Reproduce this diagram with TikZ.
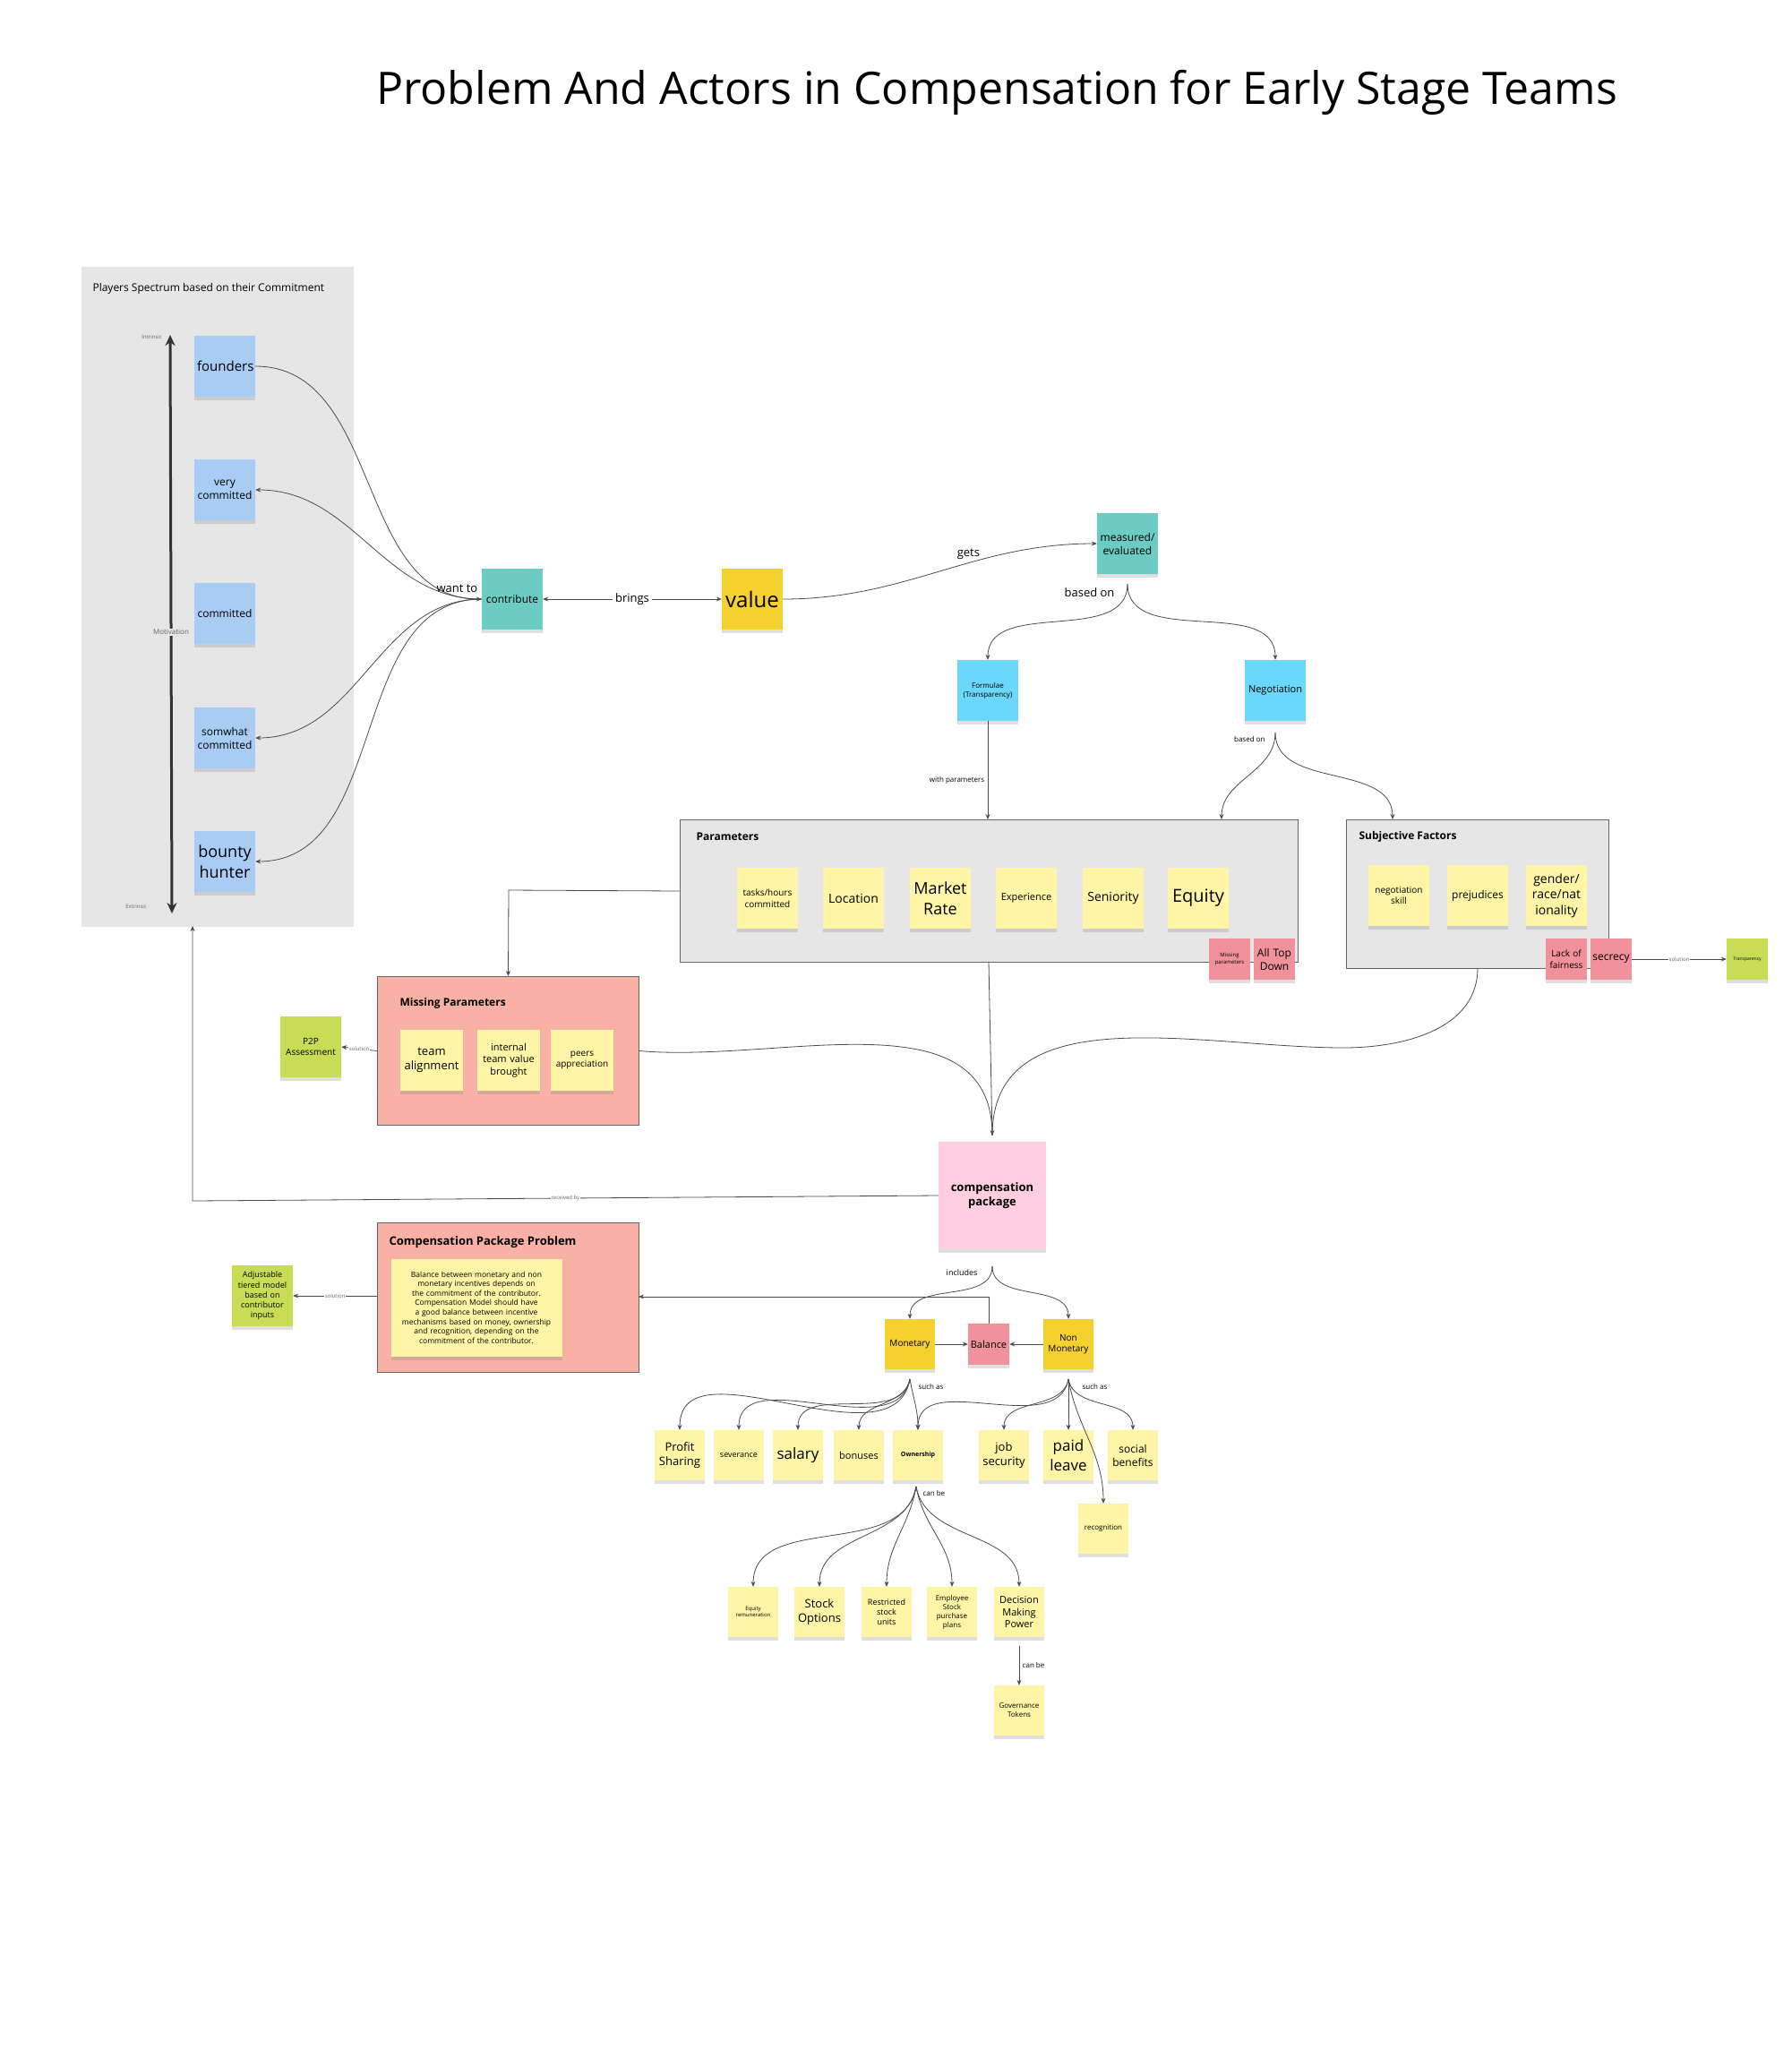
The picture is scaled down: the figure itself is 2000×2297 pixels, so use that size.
\documentclass[tikz,border=0pt]{standalone}
\usepackage{fontspec}
\setmainfont{Open Sans}
\usetikzlibrary{shadows,arrows.meta}
\definecolor{cblue}{HTML}{A9CCF5}
\definecolor{cteal}{HTML}{6CCBC2}
\definecolor{cgold}{HTML}{F4D12C}
\definecolor{cyel}{HTML}{FFF5A6}
\definecolor{ccyan}{HTML}{6BD7FA}
\definecolor{cpink}{HTML}{F0919B}
\definecolor{cpinkl}{HTML}{FFCEE0}
\definecolor{csalm}{HTML}{F8B1A4}
\definecolor{cgray}{HTML}{E6E6E6}
\definecolor{cgreen}{HTML}{C8DD55}
\newcommand\fsz[1]{\fontsize{#1}{\fpeval{#1*1.25}}\selectfont\hyphenpenalty=10000 }
\tikzset{
  st/.style={fill=#1, inner sep=2pt, align=center, minimum width=68pt, minimum height=68pt, text width=62pt,
    drop shadow={shadow xshift=0pt, shadow yshift=-4pt, opacity=0.25}},
  sm/.style={st=#1, minimum width=45pt, minimum height=46pt, text width=42pt},
  box/.style={draw=black!60, line width=1pt, fill=#1},
  ln/.style={draw=black!70, line width=0.8pt},
  ar/.style={ln, -{Stealth[length=6pt,width=5pt]}},
  tl/.style={font=\fsz{6}, text=black!60, fill=white, inner sep=1pt},
  f/.style={font=\fsz{#1}},
  fb/.style={font=\fsz{#1}\bfseries},
}
\begin{document}
\begin{tikzpicture}[x=1pt,y=-1pt]
\useasboundingbox[fill=white] (0,0) rectangle (2000,2297);
\node[f=50] (title) at (1113,103) {Problem And Actors in Compensation for Early Stage Teams};

% left panel
\node[box=cgray, draw=none, minimum width=304pt, minimum height=737pt, anchor=north west] (panel) at (90,297) {};
\node[f=12, anchor=west] (ptitle) at (100,322) {Players Spectrum based on their Commitment};
\coordinate (mtop) at (190,374);
\coordinate (mbot) at (192,1020);
\draw[line width=3pt, black!80, {Stealth[length=12pt,width=11pt]}-{Stealth[length=12pt,width=11pt]}] (mtop) -- (mbot);
\node[tl, fill=none, anchor=east] (intr) at (182,376) {Intrinsic};
\node[tl, fill=cgray, font=\fsz{8}] (motiv) at (191,706) {Motivation};
\node[tl, fill=none, anchor=east] (extr) at (165,1012) {Extrinsic};
\node[st=cblue, f=15] (founders) at (251,409) {founders};
\node[st=cblue, f=12] (very) at (251,547) {very\\committed};
\node[st=cblue, f=12] (committed) at (251,685) {committed};
\node[st=cblue, f=12] (somewhat) at (251,824) {somwhat\\committed};
\node[st=cblue, f=18] (bounty) at (251,962) {bounty\\hunter};

\node[st=cteal, f=12] (contribute) at (572,669) {contribute};
\node[st=cgold, f=24] (value) at (840,669) {value};
\node[st=cteal, f=12] (measured) at (1259,607) {measured/\\evaluated};
\node[st=ccyan, f=8] (formulae) at (1103,771) {Formulae\\(Transparency)};
\node[st=ccyan, f=11] (negotiation) at (1424,771) {Negotiation};

\draw[ar] (founders.east) to[out=0,in=180] node[pos=0.93, above, f=13] {want to} (contribute.west);
\draw[ar] (contribute.west) to[out=180,in=0] (very.east);
\draw[ar] (contribute.west) to[out=180,in=0] (somewhat.east);
\draw[ar] (contribute.west) to[out=180,in=0] (bounty.east);
\draw[ln, {Stealth[length=6pt,width=5pt]}-{Stealth[length=6pt,width=5pt]}] (contribute.east) -- node[fill=white, f=13] {brings} (value.west);
\draw[ar] (value.east) to[out=0,in=180] node[pos=0.6, above, f=13] {gets} (measured.west);
\coordinate (mb) at (1259,652);
\node[f=13, anchor=east] (basedon1) at (1248,662) {based on};
\draw[ar] (mb) to[out=-90,in=90] (formulae.north);
\draw[ar] (mb) to[out=-90,in=90] (negotiation.north);

% parameters
\node[box=cgray, minimum width=690pt, minimum height=159pt, anchor=north west] (params) at (759,915) {};
\node[fb=12, anchor=west] (ptl) at (774,934) {Parameters};
\node[st=cyel, f=10] (tasks) at (857,1003) {tasks/hours\\committed};
\node[st=cyel, f=14] (location) at (953,1003) {Location};
\node[st=cyel, f=18] (market) at (1050,1003) {Market\\Rate};
\node[st=cyel, f=11] (experience) at (1146,1003) {Experience};
\node[st=cyel, f=14] (seniority) at (1243,1003) {Seniority};
\node[st=cyel, f=20] (equity) at (1338,1003) {Equity};
\node[sm=cpink, f=6] (missp) at (1373,1071) {Missing\\parameters};
\node[sm=cpink, f=12] (topdown) at (1423,1071) {All Top\\Down};

\node[box=cgray, minimum width=293pt, minimum height=166pt, anchor=north west] (subj) at (1503,915) {};
\node[fb=12, anchor=west] (stl) at (1514,934) {Subjective Factors};
\node[st=cyel, f=10] (negskill) at (1562,1000) {negotiation\\skill};
\node[st=cyel, f=12] (prej) at (1650,1000) {prejudices};
\node[st=cyel, f=14] (gender) at (1738,1000) {gender/\\race/nat\\ionality};
\node[sm=cpink, f=10] (fair) at (1749,1071) {Lack of\\fairness};
\node[sm=cpink, f=12] (secrecy) at (1799,1071) {secrecy};
\node[sm=cgreen, f=5] (transp) at (1951,1071) {Transparency};
\draw[ar] (secrecy.east) -- node[tl] {solution} (transp.west);

\draw[ar] (formulae.south) -- node[pos=0.6, left, f=8] {with parameters} (formulae.south |- params.north);
\coordinate (nb) at (1424,818);
\node[f=8, anchor=east] (basedon2) at (1416,825) {based on};
\draw[ar] (nb) to[out=-90,in=90] (1364,915);
\draw[ar] (nb) to[out=-90,in=90] (1555,915);

% missing parameters
\node[box=csalm, minimum width=292pt, minimum height=166pt, anchor=north west] (missbox) at (421,1090) {};
\node[fb=12, anchor=west] (mtl) at (443,1120) {Missing Parameters};
\node[st=cyel, f=13, text width=66pt] (teamal) at (482,1184) {team\\alignment};
\node[st=cyel, f=11, text width=66pt] (internal) at (568,1184) {internal\\team value\\brought};
\node[st=cyel, f=10, text width=66pt] (peers) at (650,1184) {peers\\appreciation};
\node[st=cgreen, f=10] (p2p) at (347,1169) {P2P\\Assessment};
\draw[ar] (missbox.west) -- node[tl] {solution} (p2p.east);
\draw[ar] (params.west) -- (568,994) -- (missbox.north);

% compensation package
\node[st=cpinkl, minimum width=120pt, minimum height=120pt, text width=110pt, fb=13] (comp) at (1108,1335) {compensation\\package};
\coordinate (ct) at (1108,1268);
\draw[ar] (1104,1074) -- (ct);
\draw[ln] (missbox.east) to[out=-5,in=90] (ct);
\draw[ln] (1650,1081) to[out=-90,in=0] (1500,1170) to[out=180,in=90] (ct);
\draw[ar] (comp.west) -- node[tl, pos=0.5] {received by} (215,1341) -- (215,1034);

% compensation package problem
\node[box=csalm, minimum width=292pt, minimum height=167pt, anchor=north west] (cpp) at (421,1365) {};
\node[fb=13, anchor=west] (cptl) at (431,1387) {Compensation Package Problem};
\node[st=cyel, minimum width=191pt, minimum height=109pt, text width=182pt, f=8.5] (cpptext) at (532,1460) {Balance between monetary and non monetary incentives depends on the commitment of the contributor. Compensation Model should have a good balance between incentive mechanisms based on money, ownership and recognition, depending on the commitment of the contributor.};
\node[st=cgreen, f=9] (adj) at (293,1447) {Adjustable tiered model based on contributor inputs};
\draw[ar] (cpp.west |- adj) -- node[tl] {solution} (adj.east);

% monetary
\node[st=cgold, minimum width=53pt, minimum height=56pt, text width=52pt, f=10] (monetary) at (1016,1501) {Monetary};
\node[sm=cpink, f=11] (balance) at (1104,1501) {Balance};
\node[st=cgold, minimum width=53pt, minimum height=56pt, text width=52pt, f=10] (nonmon) at (1193,1501) {Non\\Monetary};
\coordinate (cb) at (1108,1414);
\node[f=9, anchor=east] (incl) at (1095,1421) {includes};
\draw[ar] (cb) to[out=-90,in=90] (monetary.north);
\draw[ar] (cb) to[out=-90,in=90] (nonmon.north);
\draw[ar] (monetary.east) -- (balance.west);
\draw[ar] (nonmon.west) -- (balance.east);
\draw[ar] (balance.north) -- (1104,1448) -- (713,1448);

\tikzset{bt/.style={st=cyel, minimum width=53pt, minimum height=56pt, text width=52pt}}
\node[bt, f=13] (profit) at (759,1625) {Profit\\Sharing};
\node[bt, f=9] (severance) at (825,1625) {severance};
\node[bt, f=17] (salary) at (891,1625) {salary};
\node[bt, f=11] (bonuses) at (959,1625) {bonuses};
\node[bt, fb=7] (ownership) at (1025,1625) {Ownership};
\node[bt, f=13] (jobsec) at (1121,1625) {job\\security};
\node[bt, f=17] (paid) at (1193,1625) {paid\\leave};
\node[bt, f=12] (social) at (1265,1625) {social\\benefits};
\node[bt, f=8] (recog) at (1232,1707) {recognition};

\coordinate (mob) at (1016,1540);
\node[f=8, anchor=west] (such1) at (1022,1548) {such as};
\foreach \t in {profit,severance,salary,bonuses} \draw[ar] (mob) to[out=-100,in=90] (\t.north);
\draw[ar] (mob) to[out=-80,in=90] (ownership.north);
\coordinate (nmb) at (1193,1540);
\node[f=8, anchor=west] (such2) at (1205,1548) {such as};
\draw[ar] (nmb) to[out=-100,in=90] (ownership.north);
\draw[ar] (nmb) to[out=-100,in=90] (jobsec.north);
\draw[ar] (nmb) -- (paid.north);
\draw[ar] (nmb) to[out=-80,in=90] (social.north);
\draw[ar] (nmb) to[out=-80,in=90] (recog.north);

\node[bt, f=6] (eqrem) at (841,1800) {Equity\\remuneration};
\node[bt, f=13] (stock) at (915,1800) {Stock\\Options};
\node[bt, f=9] (rsu) at (990,1800) {Restricted\\stock\\units};
\node[bt, f=8] (espp) at (1063,1800) {Employee\\Stock\\purchase\\plans};
\node[bt, f=11] (decision) at (1138,1800) {Decision\\Making\\Power};
\node[bt, f=8] (gov) at (1138,1910) {Governance\\Tokens};
\coordinate (ob) at (1023,1660);
\node[f=8, anchor=west] (canbe1) at (1027,1667) {can be};
\foreach \t in {eqrem,stock,rsu} \draw[ar] (ob) to[out=-100,in=90] (\t.north);
\foreach \t in {espp,decision} \draw[ar] (ob) to[out=-80,in=90] (\t.north);
\coordinate (db) at (1138,1838);
\draw[ar] (db) -- node[right, f=8] {can be} (gov.north);
\end{tikzpicture}
\end{document}
